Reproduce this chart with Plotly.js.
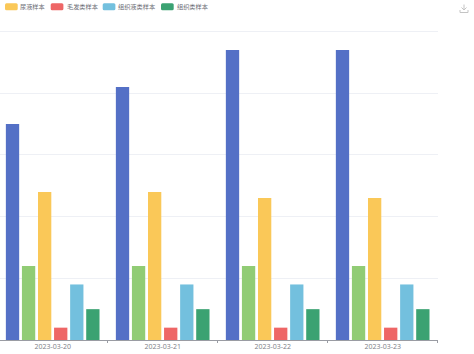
<!DOCTYPE html>
<html>
<head>
<meta charset="utf-8">
<script src="https://cdn.plot.ly/plotly-3.0.1.min.js"></script>
<style>html,body{margin:0;padding:0;background:#fff;overflow:hidden}#c{width:474px;height:354px}</style>
</head>
<body>
<div id="c"></div>
<script>
const categories = ['2023-03-20', '2023-03-21', '2023-03-22', '2023-03-23'];
const seriesA = [350, 410, 470, 470];
const seriesB = [120, 120, 120, 120];
const urine = [240, 240, 230, 230];
const hair = [20, 20, 20, 20];
const tissueFluid = [90, 90, 90, 90];
const tissue = [50, 50, 50, 50];
const colors = ['#5470c6', '#91cc75', '#fac858', '#ee6666', '#73c0de', '#3ba272'];
const names = ['', '', '尿液样本', '毛发类样本', '组织液类样本', '组织类样本'];
const values = [seriesA, seriesB, urine, hair, tissueFluid, tissue];
const legendSwatchX = [5, 50.7, 102.7, 161];
const legendTextX = [20, 66.5, 118, 176.5];

const W = 474, H = 354, L = 0, T = 29, R = 36, B = 14;
const pw = W - L - R, ph = H - T - B;
const fx = p => (p - L) / pw;
const fy = p => (H - B - p) / ph;

const traces = values.map((v, i) => ({
  type: 'bar', x: categories, y: v, name: names[i] || ('系列' + (i + 1)),
  marker: {color: colors[i], line: {width: 0}}, showlegend: false, hoverinfo: 'x+y'
}));

const shapes = [];
const annotations = [];
for (let i = 0; i < 4; i++) {
  const x0 = legendSwatchX[i], x1 = x0 + 12.7, y0 = 3.3, y1 = 10.3, r = 1.5;
  const path = 'M' + fx(x0 + r) + ',' + fy(y0) +
    'L' + fx(x1 - r) + ',' + fy(y0) +
    'Q' + fx(x1) + ',' + fy(y0) + ' ' + fx(x1) + ',' + fy(y0 + r) +
    'L' + fx(x1) + ',' + fy(y1 - r) +
    'Q' + fx(x1) + ',' + fy(y1) + ' ' + fx(x1 - r) + ',' + fy(y1) +
    'L' + fx(x0 + r) + ',' + fy(y1) +
    'Q' + fx(x0) + ',' + fy(y1) + ' ' + fx(x0) + ',' + fy(y1 - r) +
    'L' + fx(x0) + ',' + fy(y0 + r) +
    'Q' + fx(x0) + ',' + fy(y0) + ' ' + fx(x0 + r) + ',' + fy(y0) + 'Z';
  shapes.push({type: 'path', xref: 'paper', yref: 'paper', path, fillcolor: colors[i + 2], line: {width: 0}});
  annotations.push({
    xref: 'paper', yref: 'paper', x: fx(legendTextX[i]), y: fy(6.4),
    xanchor: 'left', yanchor: 'middle', showarrow: false, text: names[i + 2],
    font: {family: '"Noto Sans CJK SC", "Noto Sans", sans-serif', size: 6.2, color: '#6b6c74'},
    borderpad: 0, borderwidth: 0
  });
}
// download icon
const ic = c => 'M' + c.map(q => fx(q[0]) + ',' + fy(q[1])).join('L');
const icon = [
  [[464, 4.5], [464, 10]],
  [[461.5, 7.5], [464, 10], [466.5, 7.5]],
  [[460, 10], [460, 12.5], [468, 12.5], [468, 10]]
];
icon.forEach(c => shapes.push({
  type: 'path', xref: 'paper', yref: 'paper', path: ic(c),
  line: {color: '#c4c4c4', width: 1}
}));

Plotly.newPlot('c', traces, {
  width: W, height: H,
  margin: {l: L, r: R, t: T, b: B, pad: 0},
  paper_bgcolor: '#fff', plot_bgcolor: '#fff',
  barmode: 'group', bargap: 0.1235, bargroupgap: 0.172,
  showlegend: false,
  xaxis: {
    type: 'category', categoryorder: 'array', categoryarray: categories,
    range: [-0.479, 3.503], tickson: 'boundaries', ticks: 'outside', ticklen: 2, tickwidth: 1,
    tickcolor: '#9a9ca3', showgrid: false, showline: true, linecolor: '#9a9ca3', linewidth: 1,
    zeroline: false, automargin: false,
    tickfont: {family: '"Open Sans", "Noto Sans", sans-serif', size: 7, color: '#7b7d85'}
  },
  yaxis: {
    range: [0, 504], tickvals: [100, 200, 300, 400, 500], showticklabels: false, ticks: '', showline: false,
    gridcolor: '#eef0f5', gridwidth: 1, zeroline: false, automargin: false
  },
  shapes, annotations
}, {displayModeBar: false, staticPlot: true});
</script>
</body>
</html>
